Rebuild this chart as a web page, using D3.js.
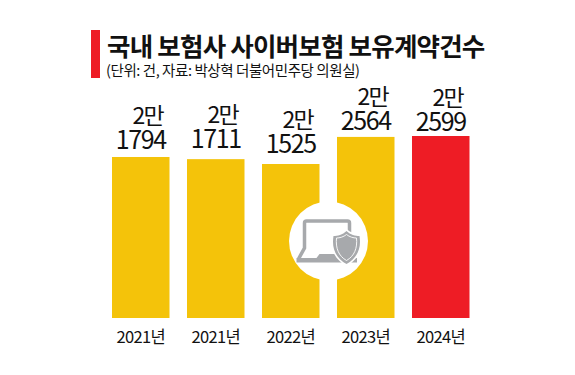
<!DOCTYPE html>
<html>
<head>
<meta charset="utf-8">
<script src="https://cdn.jsdelivr.net/npm/d3@7"></script>
<style>
    html, body { margin: 0; padding: 0; background: #fff; }
    text { font-family: "Noto Sans CJK KR", "Noto Sans", sans-serif; fill: #111; }
</style>
</head>
<body>
<div id="chart"></div>
<script>
const categories = ["2021년", "2021년", "2022년", "2023년", "2024년"];
const values = [21794, 21711, 21525, 22564, 22599];
const manLabels = ["2만", "2만", "2만", "2만", "2만"];
const restLabels = ["1794", "1711", "1525", "2564", "2599"];
const barColors = ["#f4c30a", "#f4c30a", "#f4c30a", "#f4c30a", "#ee1c25"];

const titleText = "국내 보험사 사이버보험 보유계약건수";
const sourceText = "(단위: 건, 자료: 박상혁 더불어민주당 의원실)";

const svg = d3.select("#chart")
    .append("svg")
    .attr("width", 575)
    .attr("height", 375);

const x = d3.scaleBand()
    .domain(d3.range(categories.length))
    .range([112, 469.5])
    .paddingInner(0.2333)
    .paddingOuter(0);

// the y axis is cut off in the original, bars do not start from zero
const y = d3.scaleLinear()
    .domain([15620, 22599])
    .range([318, 136]);

// Header
svg.append("rect")
    .attr("x", 91)
    .attr("y", 30)
    .attr("width", 9)
    .attr("height", 48)
    .attr("fill", "#ee1c25");

svg.append("text")
    .attr("x", 107)
    .attr("y", 56)
    .attr("font-size", 25.5)
    .attr("font-weight", 700)
    .attr("letter-spacing", "-0.8px")
    .text(titleText);

svg.append("text")
    .attr("x", 106)
    .attr("y", 76)
    .attr("font-size", 14.5)
    .attr("letter-spacing", "-0.42px")
    .text(sourceText);

// Bars
svg.selectAll(".bar")
    .data(values)
    .enter().append("rect")
    .attr("class", "bar")
    .attr("x", (d, i) => x(i))
    .attr("y", d => y(d))
    .attr("width", x.bandwidth())
    .attr("height", d => y.range()[0] - y(d))
    .attr("fill", (d, i) => barColors[i]);

// Value labels, two lines above each bar. The labels were placed by hand
// in the original so the gap over the bar is not the same everywhere
const labelGap = [8, 11, 11, 7, 5.5];

const labels = svg.selectAll(".label")
    .data(values)
    .enter().append("text")
    .attr("class", "label")
    .attr("text-anchor", "middle");

labels.append("tspan")
    .attr("x", (d, i) => x(i) + x.bandwidth() / 2 + 7)
    .attr("y", (d, i) => y(d) - labelGap[i] - 25)
    .attr("font-size", 23)
    .attr("letter-spacing", "-1.6px")
    .text((d, i) => manLabels[i]);

labels.append("tspan")
    .attr("x", (d, i) => x(i) + x.bandwidth() / 2)
    .attr("y", (d, i) => y(d) - labelGap[i])
    .attr("font-size", 25)
    .attr("letter-spacing", "-1.4px")
    .text((d, i) => restLabels[i]);

// Category labels
svg.selectAll(".cat")
    .data(categories)
    .enter().append("text")
    .attr("class", "cat")
    .attr("x", (d, i) => x(i) + x.bandwidth() / 2)
    .attr("y", 343)
    .attr("text-anchor", "middle")
    .attr("font-size", 16.5)
    .attr("letter-spacing", "-0.7px")
    .text(d => d);

// Laptop and shield badge
const icon = svg.append("g").attr("transform", "translate(328.5,241)");

icon.append("circle")
    .attr("r", 39.5)
    .attr("fill", "#fff");

// screen outline
icon.append("path")
    .attr("d", "M-22,-20 H19 Q21,-20 21,-18 V12 M-22,-20 Q-24,-20 -24,-18 V7 L-30,18")
    .attr("fill", "none")
    .attr("stroke", "#a7a9ac")
    .attr("stroke-width", 3.5);

// keyboard base
icon.append("path")
    .attr("d", "M-32,17 H-12 L-9,13 H8 L14,17 H28.5 V21.5 H-32 Z")
    .attr("fill", "#a7a9ac");

// shield with white edge and inner line
icon.append("path")
    .attr("d", "M18,-12 C14,-8 8,-7 3,-7 C1,6 5,18 18,25 C31,18 35,6 33,-7 C28,-7 22,-8 18,-12 Z")
    .attr("fill", "#fff");

icon.append("path")
    .attr("d", "M18,-10 C14,-6 9,-5 5,-5 C3,7 7,17 18,23 C29,17 33,7 31,-5 C27,-5 22,-6 18,-10 Z")
    .attr("fill", "#a7a9ac");

icon.append("path")
    .attr("d", "M18,-6.5 C15,-4 11,-3 8,-3 C7,7 10,15 18,19.5 C26,15 29,7 28,-3 C25,-3 21,-4 18,-6.5 Z")
    .attr("fill", "#a7a9ac")
    .attr("stroke", "#fff")
    .attr("stroke-width", 0.9);
</script>
</body>
</html>
